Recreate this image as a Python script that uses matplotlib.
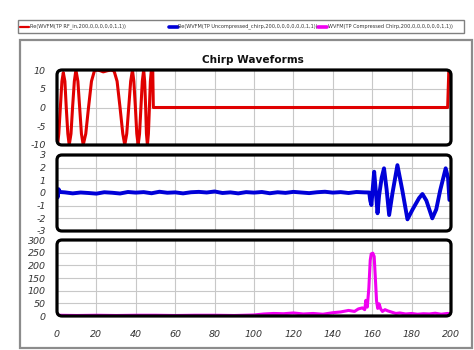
import matplotlib
matplotlib.use("Agg")
import matplotlib.pyplot as plt
from matplotlib.patches import Rectangle, FancyBboxPatch
from matplotlib.lines import Line2D

plt.rcParams["axes.unicode_minus"] = False

# --- waveform samples -------------------------------------------------------
red_x = [0.0, 0.3, 0.9, 1.7, 2.5, 3.2, 4.0, 4.7, 5.5, 6.2, 7.1, 7.9, 8.8, 9.6,
         10.6, 11.5, 12.4, 13.3, 14.6, 16.0, 17.5, 19.0, 20.5, 22.0, 23.5, 25.5,
         27.5, 29.0, 30.5, 32.0, 33.4, 34.4, 35.4, 36.4, 37.4, 38.3, 39.0, 39.8,
         40.5, 41.2, 41.9, 42.6, 43.3, 44.0, 44.5, 45.0, 45.4, 45.9, 46.4, 46.9,
         47.4, 47.9, 48.6, 48.9, 198.3, 198.9]
red_y = [-10, -10, -7, 0, 7, 9.3, 7, 0, -7, -10, -7, 0, 7, 10,
         7, 0, -7, -10, -7, 0, 7, 9.8, 10, 9.8, 9.5, 9.8,
         10, 9.7, 7, 0, -7, -10, -7, 0, 7, 10, 7, 0,
         -7, -10, -7, 0, 7, 10, 7, 0, -7, -10, -7, 0,
         7, 10, 10, 0, 0, 10]

blue_x = [0.0, 0.3, 0.8, 1.5, 4, 8, 12, 16, 20, 24, 28, 32, 36, 40, 44, 48, 52,
          56, 60, 64, 68, 72, 76, 80, 84, 88, 92, 96, 100, 104, 108, 112, 116,
          120, 124, 128, 132, 136, 140, 144, 148, 152, 156, 158.5,
          159.0, 159.6, 160.3, 161.0, 161.8, 162.7, 163.5, 164.8, 166.0, 167.3,
          168.6, 170.3, 172.8, 175.3, 177.9, 180.5, 183.8, 185.5, 187.5, 190.5,
          192.5, 194.5, 197.3, 198.5, 199.2]
blue_y = [0.0, -0.35, 0.3, 0.08, 0.05, -0.03, 0.04, 0.0, -0.05, 0.06, 0.02,
          -0.04, 0.08, 0.03, 0.07, -0.02, 0.1, 0.02, 0.05, -0.03, 0.06, 0.09,
          0.04, 0.12, 0.0, 0.05, -0.03, 0.07, 0.03, 0.08, -0.02, 0.06, 0.01,
          0.09, 0.04, -0.01, 0.06, 0.1, 0.03, 0.07, 0.0, 0.08, 0.05, 0.04,
          -0.6, -0.95, 0.4, 1.68, 0.2, -1.6, -0.2, 1.2, 1.95, 0.3,
          -1.74, 0.0, 2.2, 0.2, -2.08, -1.3, -0.4, -0.08, -0.6, -2.0,
          -1.3, 0.2, 1.95, 1.2, -0.55]

mag_x = [0, 10, 20, 30, 40, 50, 60, 70, 80, 90, 100, 105, 110, 115, 120, 125,
         130, 135, 140, 144, 148, 151, 153, 155, 156.2, 156.8, 157.5, 158.3,
         159.0, 159.5, 160.3, 161.0, 161.6, 162.2, 162.8, 163.5, 164.3, 165.2,
         166.5, 168, 170, 172, 174, 177, 180, 183, 186, 189, 192, 195, 198, 200]
mag_y = [3, 2, 3, 2, 3, 3, 2, 3, 3, 2, 4, 8, 10, 9, 12, 8,
         10, 7, 13, 16, 22, 18, 28, 32, 25, 62, 35, 110,
         220, 245, 248, 235, 150, 60, 30, 48, 28, 18,
         25, 20, 15, 10, 12, 8, 10, 7, 9, 8, 11, 7, 10, 9]

legend_labels = ["Re(WVFM(TP RF_in,200,0,0,0,0,0,1,1))",
                 "Re(WVFM(TP Uncompressed_chirp,200,0,0,0,0,0,0,1,1))",
                 "WVFM(TP Compressed Chirp,200,0,0,0,0,0,0,1,1))"]
colors = ["#e00000", "#0000d8", "#f000f0"]

x_ticks = list(range(0, 201, 20))
panel_yticks = [[10, 5, 0, -5, -10], [3, 2, 1, 0, -1, -2, -3],
                [0, 50, 100, 150, 200, 250, 300]]
panel_ylims = [(-10, 10), (-3, 3), (0, 300)]

W, H = 474, 350
fig = plt.figure(figsize=(W / 100, H / 100), dpi=100)
fig.patch.set_facecolor("white")


def fx(px):
    return px / W


def fy(py):
    return 1 - py / H


# outer chart frame
fig.add_artist(Rectangle((fx(20), fy(348)), fx(472) - fx(20), fy(40) - fy(348),
                         transform=fig.transFigure, fill=False,
                         edgecolor="#8c8c8c", lw=1.6))

# legend strip
fig.add_artist(Rectangle((fx(18), fy(33)), fx(464) - fx(18), fy(20) - fy(33),
                         transform=fig.transFigure, fill=False,
                         edgecolor="#808080", lw=1.0))
leg_pos = [(20, 29), (169, 178), (318, 327)]
leg_lw = [1.6, 2.6, 2.6]
for (x0, x1), lab, c, lw in zip(leg_pos, legend_labels, colors, leg_lw):
    fig.add_artist(Line2D([fx(x0), fx(x1)], [fy(26.5), fy(26.5)],
                          transform=fig.transFigure, color=c, lw=lw,
                          solid_capstyle="round"))
    fig.text(fx(x1 + 0.5), fy(26.5), lab, fontsize=3.6, va="center",
             ha="left", color="#333333")

fig.text(fx(253), fy(60), "Chirp Waveforms", ha="center", va="center",
         fontsize=7.6, fontweight="bold", color="#111111")

panel_px = [(70, 145), (155, 231), (240, 316)]
series = [(red_x, red_y, 2.2), (blue_x, blue_y, 2.8), (mag_x, mag_y, 2.2)]
ax_w_px = 451 - 57
for i, ((top, bot), (xs, ys, lw)) in enumerate(zip(panel_px, series)):
    ax = fig.add_axes([fx(57), fy(bot), fx(451) - fx(57), fy(top) - fy(bot)])
    ax.plot(xs, ys, color=colors[i], lw=lw, solid_joinstyle="round",
            solid_capstyle="round", zorder=3)
    ax.set_xlim(0, 200)
    ax.set_ylim(*panel_ylims[i])
    ax.set_xticks(x_ticks)
    ax.set_yticks(panel_yticks[i])
    ax.grid(True, color="#c8c8c8", lw=0.8, zorder=0)
    ax.set_axisbelow(True)
    for s in ax.spines.values():
        s.set_visible(False)
    # heavy rounded panel border
    ax_h_px = bot - top
    r = 5 / ax_w_px
    ax.add_patch(FancyBboxPatch((0, 0), 1, 1,
                                boxstyle=f"round,pad=0,rounding_size={r}",
                                mutation_aspect=ax_w_px / ax_h_px,
                                transform=ax.transAxes, fill=False,
                                edgecolor="black", lw=2.3, zorder=5,
                                clip_on=False))
    ax.tick_params(axis="both", length=0, labelsize=6.8, colors="#333333")
    ax.tick_params(axis="y", pad=8)
    ax.tick_params(axis="x", pad=10)
    for t in ax.get_yticklabels():
        t.set_fontstyle("italic")
    if i < 2:
        ax.tick_params(axis="x", labelbottom=False)
    else:
        for t in ax.get_xticklabels():
            t.set_fontstyle("italic")

fig.savefig("out.png", dpi=100, facecolor="white")
